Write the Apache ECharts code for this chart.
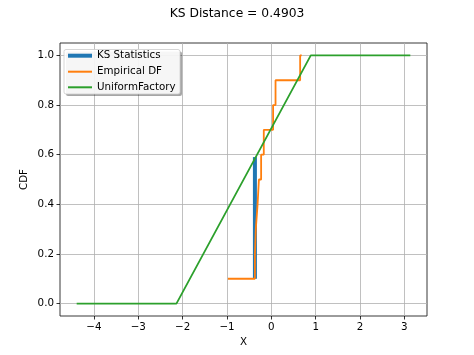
<!DOCTYPE html>
<html>
<head>
    <meta charset="utf-8">
    <title>KS Distance</title>
    <script src="https://cdn.jsdelivr.net/npm/echarts@6/dist/echarts.min.js"></script>
</head>
<body style="margin: 0;">
<div id="main" style="width: 474px;height: 355px;"></div>
<script type="text/javascript">
    // data
    var ksX = [-0.37, -0.37];
    var ksY = [0.1, 0.5903];

    // empirical CDF: jump points and levels
    var edfX = [-0.98, -0.37, -0.35, -0.31, -0.28, -0.23, -0.17, 0.04, 0.095, 0.65, 0.685];
    var edfY = [0.1, 0.2, 0.3, 0.4, 0.5, 0.6, 0.7, 0.8, 0.9, 1.0, 1.0];

    // uniform CDF corners
    var uniX = [-4.39, -2.14, 0.89, 3.135];
    var uniY = [0, 0, 1, 1];

    var xTicks = [-4, -3, -2, -1, 0, 1, 2, 3];
    var yTicks = [0, 0.2, 0.4, 0.6, 0.8, 1.0];

    function pairs(xs, ys) {
        var out = [];
        for (var i = 0; i < xs.length; i++) out.push([xs[i], ys[i]]);
        return out;
    }

    var font = 'DejaVu Sans';
    var myChart = echarts.init(document.getElementById('main'));

    function legendFor(name, top, h) {
        return {
            data: [name],
            left: 68,
            top: top,
            orient: 'vertical',
            padding: 0,
            icon: 'rect',
            itemWidth: 24,
            itemHeight: h,
            z: 10,
            textStyle: {fontFamily: font, fontSize: 10.3, color: '#000', lineHeight: 12}
        };
    }

    var option = {
        animation: false,
        title: {
            text: 'KS Distance = 0.4903',
            left: 'center',
            top: 3,
            textStyle: {fontFamily: font, fontSize: 12.3, fontWeight: 'normal', color: '#000'}
        },
        legend: [
            legendFor('KS Statistics', 49.7, 4),
            legendFor('Empirical DF', 65.7, 2),
            legendFor('UniformFactory', 81.3, 2)
        ],
        graphic: [
            {type: 'rect', z: 8, shape: {x: 66, y: 51.5, width: 116, height: 44.5, r: 2},
                style: {fill: 'rgba(0,0,0,0.35)'}},
            {type: 'rect', z: 9, shape: {x: 64, y: 49.5, width: 116, height: 44.5, r: 2},
                style: {fill: 'rgba(255,255,255,0.9)', stroke: '#cccccc', lineWidth: 0.8}}
        ],
        grid: {
            left: 60, right: 47, top: 43, bottom: 39,
            show: true, borderColor: '#222', borderWidth: 0.9
        },
        xAxis: {
            type: 'value',
            min: -4.766, max: 3.511,
            splitNumber: 8,
            name: 'X',
            nameLocation: 'middle',
            nameGap: 21,
            nameTextStyle: {fontFamily: font, fontSize: 10.3, color: '#000'},
            axisLine: {show: false, onZero: false},
            axisTick: {show: true, length: 3.5, customValues: xTicks, lineStyle: {color: '#000', width: 0.8}},
            axisLabel: {
                customValues: xTicks,
                fontFamily: font, fontSize: 10.3, color: '#000', margin: 6,
                formatter: function (v) { return v < 0 ? '\u2212' + Math.abs(v) : String(v); }
            },
            splitLine: {show: true, lineStyle: {color: '#b0b0b0', width: 0.8}}
        },
        yAxis: {
            type: 'value',
            min: -0.05, max: 1.05,
            splitNumber: 5,
            name: 'CDF',
            nameLocation: 'middle',
            nameGap: 31,
            nameMoveOverlap: false,
            nameTextStyle: {fontFamily: font, fontSize: 10.3, color: '#000'},
            axisLine: {show: false, onZero: false},
            axisTick: {show: true, length: 3.5, customValues: yTicks, lineStyle: {color: '#000', width: 0.8}},
            axisLabel: {
                customValues: yTicks,
                fontFamily: font, fontSize: 10.3, color: '#000', margin: 6,
                formatter: function (v) { return v.toFixed(1); }
            },
            splitLine: {show: true, lineStyle: {color: '#b0b0b0', width: 0.8}}
        },
        series: [
            {
                name: 'KS Statistics',
                type: 'line',
                data: pairs(ksX, ksY),
                showSymbol: false,
                color: '#1f77b4',
                lineStyle: {width: 4},
                z: 3
            },
            {
                name: 'Empirical DF',
                type: 'line',
                step: 'end',
                data: pairs(edfX, edfY),
                showSymbol: false,
                color: '#ff7f0e',
                lineStyle: {width: 1.8},
                z: 4
            },
            {
                name: 'UniformFactory',
                type: 'line',
                data: pairs(uniX, uniY),
                showSymbol: false,
                color: '#2ca02c',
                lineStyle: {width: 1.8},
                z: 5
            }
        ]
    };
    myChart.setOption(option);
</script>
</body>
</html>
